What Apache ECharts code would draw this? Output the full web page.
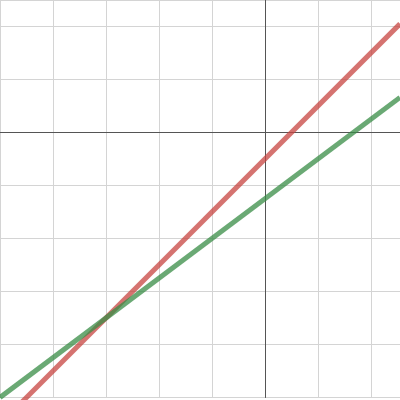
<!DOCTYPE html><html><head><meta charset="utf-8"><script src="https://cdn.jsdelivr.net/npm/echarts@6/dist/echarts.min.js"></script></head><body style="margin:0"><div id="c" style="width:400px;height:400px"></div><script>
const xs=[-5,2.55];
const redY=[-5.5,2.05];
const greenY=[-5,0.6625];
const c=echarts.init(document.getElementById('c'));
const ax={type:'value',interval:1,axisLabel:{show:false},axisTick:{show:false},
 splitLine:{show:true,lineStyle:{color:'#d4d4d4',width:1}},
 axisLine:{show:true,onZero:true,lineStyle:{color:'#555',width:1}}};
c.setOption({animation:false,backgroundColor:'#fff',
 grid:{left:0,right:0,top:0,bottom:2.5},
 xAxis:Object.assign({},ax,{min:-5,max:2.55}),
 yAxis:Object.assign({},ax,{min:-5,max:2.5}),
 series:[
  {type:'line',clip:false,data:xs.map((x,i)=>[x,redY[i]]),symbol:'none',lineStyle:{color:'#c74440',width:5,opacity:0.75}},
  {type:'line',clip:false,data:xs.map((x,i)=>[x,greenY[i]]),symbol:'none',lineStyle:{color:'#388c46',width:5,opacity:0.75}}
 ]});
</script></body></html>
